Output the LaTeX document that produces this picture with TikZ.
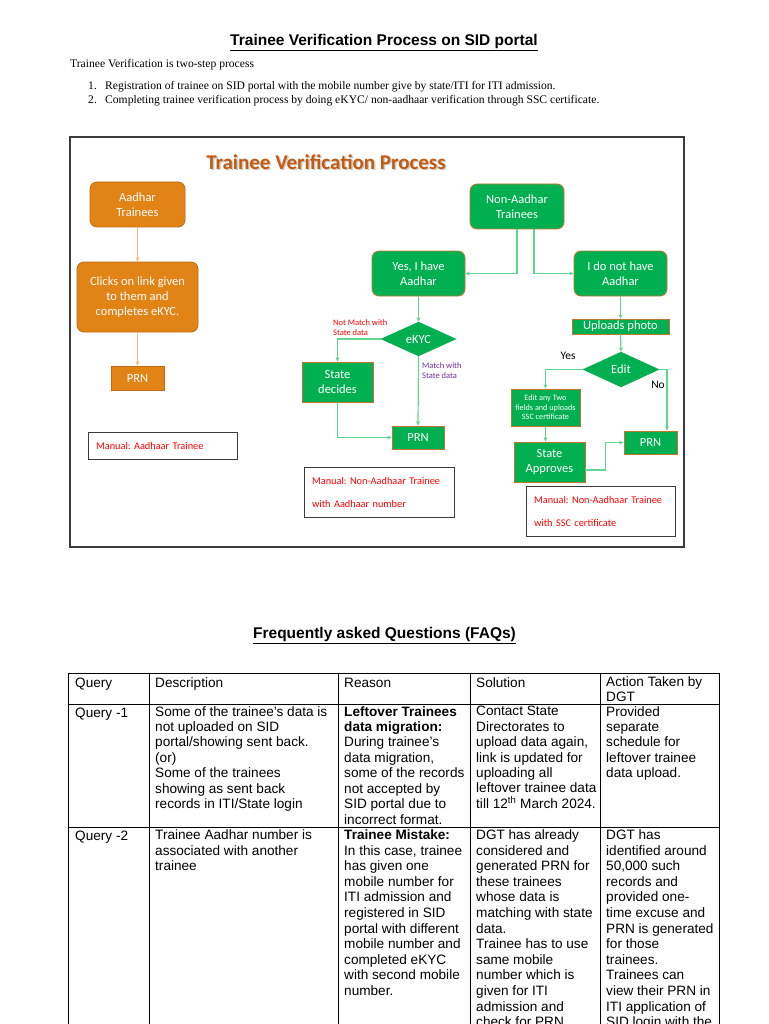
\documentclass[tikz,border=0pt]{standalone}
\usepackage{fontspec}
\setmainfont{Liberation Serif}
\newfontfamily\arialf{Liberation Sans}
\newfontfamily\calib{Carlito}
\usetikzlibrary{shapes.geometric,arrows.meta,calc}
\frenchspacing
\definecolor{orF}{RGB}{226,131,22}
\definecolor{orB}{RGB}{196,106,20}
\definecolor{orL}{RGB}{246,184,128}
\definecolor{grF}{RGB}{0,176,80}
\definecolor{grB}{RGB}{190,118,48}
\definecolor{grL}{RGB}{96,214,146}
\definecolor{ttlC}{RGB}{197,90,17}
\definecolor{purp}{RGB}{112,48,160}
\definecolor{frameC}{RGB}{60,60,60}
\tikzset{
  boxfont/.style={font=\calib\fontsize{12.5}{15}\selectfont},
  ob/.style={boxfont, draw=orB, fill=orF, rounded corners=7pt, text=white, align=center, inner sep=0pt, line width=0.8pt},
  obsq/.style={ob, rounded corners=0pt},
  gb/.style={boxfont, draw=grB, fill=grF, rounded corners=7pt, text=white, align=center, inner sep=0pt, line width=0.8pt},
  gbsq/.style={gb, rounded corners=0pt},
  gdia/.style={boxfont, shape=diamond, fill=grF, draw=grF, text=white, inner sep=0pt, aspect=2.2},
  garr/.style={draw=grL, line width=1.2pt, -{Stealth[length=4.5pt,width=4pt]}},
  oarr/.style={draw=orL, line width=1.2pt, -{Stealth[length=4.5pt,width=4pt]}},
  manualbox/.style={draw=frameC, line width=1.1pt, text=red, font=\calib\fontsize{10.3}{23}\selectfont, align=left, anchor=north west, inner xsep=7.5pt, inner ysep=0pt},
  smalllbl/.style={font=\calib\fontsize{8.5}{10.5}\selectfont, align=left, anchor=west, inner sep=0pt},
  tcell/.style={anchor=north west, inner sep=0pt, align=left, font=\arialf\fontsize{13.6}{15.45}\selectfont, execute at begin node={\rule{0pt}{11pt}}},
  tcelltwo/.style={tcell, font=\arialf\fontsize{13.6}{15.6}\selectfont},
  tline/.style={draw=black, line width=0.9pt},
  bodytxt/.style={anchor=base west, inner sep=0pt, font=\fontsize{11.6}{14}\selectfont},
}
\begin{document}
\begin{tikzpicture}[x=1pt,y=-1pt]
\useasboundingbox (0,0) rectangle (768,1024);
\fill[white] (0,0) rectangle (768,1024);
\clip (0,0) rectangle (768,1024);

% ---------- header text ----------
\node[anchor=base, inner sep=0pt, font=\arialf\bfseries\fontsize{15.5}{18}\selectfont] (title) at (384,45.5) {\underline{Trainee Verification Process on SID portal}};
\node[bodytxt] (intro) at (70,68) {Trainee Verification is two-step process};
\node[bodytxt] (n1) at (88,90) {1.};
\node[bodytxt] (i1) at (105,90) {Registration of trainee on SID portal with the mobile number give by state/ITI for ITI admission.};
\node[bodytxt] (n2) at (88,104) {2.};
\node[bodytxt] (i2) at (105,104) {Completing trainee verification process by doing eKYC/ non-aadhaar verification through SSC certificate.};

% ---------- flowchart frame ----------
\draw[frameC, line width=1.3pt] (70,137) rectangle (684,547);
\node[font=\calib\bfseries\fontsize{21}{24}\selectfont, text=black!45, opacity=0.45, inner sep=0pt] (fctshadow) at (327.5,163.5) {Trainee Verification Process};
\node[font=\calib\bfseries\fontsize{21}{24}\selectfont, text=ttlC, inner sep=0pt] (fct) at (326,162) {Trainee Verification Process};

% Aadhar branch
\node[ob, minimum width=95pt, minimum height=45pt] (ab) at (137.5,204.5) {Aadhar\\Trainees};
\node[ob, minimum width=121pt, minimum height=70pt] (cl) at (137.5,297) {Clicks on link given\\to them and\\completes eKYC.};
\node[obsq, minimum width=53pt, minimum height=24pt] (prnA) at (137.5,378) {PRN};
\draw[oarr] (ab.south) -- (cl.north);
\draw[oarr] (cl.south) -- (prnA.north);
\node[manualbox, minimum width=149pt, minimum height=27pt, text width=134pt] (m1) at (88,432) {Manual: Aadhaar Trainee\\[-1pt]};

% Non-Aadhar branch
\node[gb, minimum width=94pt, minimum height=45pt] (nonA) at (517,206.5) {Non-Aadhar\\Trainees};
\node[gb, minimum width=93pt, minimum height=45pt] (yes) at (418.5,273.5) {Yes, I have\\Aadhar};
\node[gb, minimum width=93pt, minimum height=45pt] (noA) at (620.5,273.5) {I do not have\\Aadhar};
\draw[garr] (nonA.south) |- (yes.east);
\draw[garr] ([xshift=17pt]nonA.south) |- (noA.west);

% with Aadhaar
\node[gdia, minimum width=75pt, minimum height=34pt] (ekyc) at (418.5,339) {eKYC};
\draw[garr] (yes.south) -- (ekyc.north);
\node[gbsq, minimum width=71pt, minimum height=40pt] (sd) at (337.5,382) {State\\decides};
\node[gbsq, minimum width=52pt, minimum height=23pt] (prn2) at (418,437.5) {PRN};
\draw[garr] (ekyc.west) -| (sd.north);
\draw[garr] (ekyc.south) -- (prn2.north);
\draw[garr] (sd.south) |- (prn2.west);
\node[smalllbl, text=red] (nm) at (333,327.5) {Not Match with\\State data};
\node[smalllbl, text=purp] (mw) at (422,370.5) {Match with\\State data};
\node[manualbox, minimum width=150pt, minimum height=50pt, text width=135pt] (m2) at (304,467) {Manual: Non-Aadhaar Trainee\\with Aadhaar number\\[0pt]};

% without Aadhaar
\node[gbsq, minimum width=97pt, minimum height=15pt] (up) at (620.5,326.5) {Uploads photo};
\node[gdia, minimum width=76pt, minimum height=35pt] (edit) at (621,369.5) {Edit};
\draw[garr] (noA.south) -- (up.north);
\draw[garr] (up.south) -- (edit.north);
\node[gbsq, minimum width=69pt, minimum height=37pt, font=\calib\fontsize{8.2}{9.5}\selectfont] (e2) at (545.5,407.5) {Edit any Two\\fields and uploads\\SSC certificate};
\node[gbsq, minimum width=71pt, minimum height=40pt] (sa) at (549.5,462) {State\\Approves};
\node[gbsq, minimum width=53pt, minimum height=23pt] (prn3) at (650.5,442.5) {PRN};
\draw[garr] (edit.west) -| (e2.north);
\draw[garr] (e2.south) -- (e2.south |- sa.north);
\draw[garr] (edit.east) -| ([xshift=16.5pt]prn3.north);
\draw[garr] ([yshift=-8pt]sa.east) -- ++(20,0) |- (prn3.west);
\node[font=\calib\fontsize{11.5}{13}\selectfont, inner sep=0pt] (yeslbl) at (568,356) {Yes};
\node[font=\calib\fontsize{11.5}{13}\selectfont, inner sep=0pt] (nolbl) at (658,385) {No};
\node[manualbox, minimum width=149pt, minimum height=50pt, text width=134pt] (m3) at (526,486) {Manual: Non-Aadhaar Trainee\\with SSC certificate\\[0pt]};

% ---------- FAQ ----------
\node[anchor=base, inner sep=0pt, font=\arialf\bfseries\fontsize{15.5}{18}\selectfont] (faq) at (384.5,638.5) {\underline{Frequently asked Questions (FAQs)}};

% table grid
\draw[tline] (68,673) -- (719,673);
\draw[tline] (68,704.5) -- (719,704.5);
\draw[tline] (68,827.5) -- (719,827.5);
\foreach \xx in {68,149,338,470,600,719} { \draw[tline] (\xx,673) -- (\xx,1030); }

% header row
\node[tcell] (h1) at (75,676) {Query};
\node[tcell] (h2) at (155,676) {Description};
\node[tcell] (h3) at (344,676) {Reason};
\node[tcell] (h4) at (476,676) {Solution};
\node[tcell] (h5) at (606,676) {Action Taken by\\DGT};

% row 1
\node[tcell] (r1a) at (75,706) {Query -1};
\node[tcell] (r1b) at (155,706) {Some of the trainee’s data is\\not uploaded on SID\\portal/showing sent back.\\(or)\\Some of the trainees\\showing as sent back\\records in ITI/State login};
\node[tcell] (r1c) at (344,706) {\textbf{Leftover Trainees}\\\textbf{data migration:}\\During trainee’s\\data migration,\\some of the records\\not accepted by\\SID portal due to\\incorrect format.};
\node[tcell] (r1d) at (476,706) {Contact State\\Directorates to\\upload data again,\\link is updated for\\uploading all\\leftover trainee data\\till 12\textsuperscript{th} March 2024.};
\node[tcell] (r1e) at (606,706) {Provided\\separate\\schedule for\\leftover trainee\\data upload.};

% row 2
\node[tcelltwo] (r2a) at (75,829.5) {Query -2};
\node[tcelltwo] (r2b) at (155,829.5) {Trainee Aadhar number is\\associated with another\\trainee};
\node[tcelltwo] (r2c) at (344,829.5) {\textbf{Trainee Mistake:}\\In this case, trainee\\has given one\\mobile number for\\ITI admission and\\registered in SID\\portal with different\\mobile number and\\completed eKYC\\with second mobile\\number.};
\node[tcelltwo] (r2d) at (476,829.5) {DGT has already\\considered and\\generated PRN for\\these trainees\\whose data is\\matching with state\\data.\\Trainee has to use\\same mobile\\number which is\\given for ITI\\admission and\\check for PRN};
\node[tcelltwo] (r2e) at (606,829.5) {DGT has\\identified around\\50,000 such\\records and\\provided one-\\time excuse and\\PRN is generated\\for those\\trainees.\\Trainees can\\view their PRN in\\ITI application of\\SID login with the};
\end{tikzpicture}
\end{document}
